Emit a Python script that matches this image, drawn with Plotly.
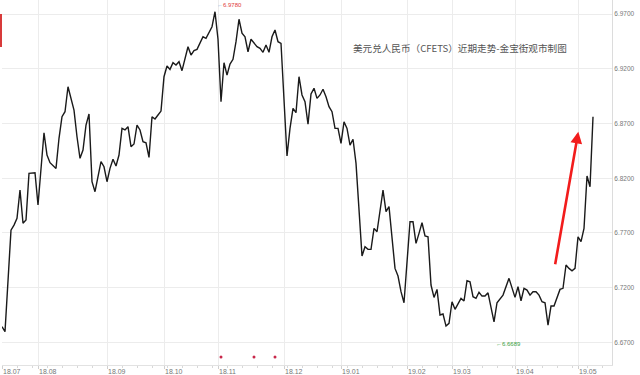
import plotly.graph_objects as go

# trading-day index (0 = left edge of chart, mid-July 2018) and USD/CNY close
day = [0, 1, 3, 4, 5, 6, 7, 8, 9, 10, 11, 12, 14, 15, 16, 18, 19, 20, 21, 22,
       24, 25, 26, 27, 28, 29, 30, 31, 33, 34, 35, 36, 37, 38, 39, 40, 41, 42, 43, 44,
       45, 46, 47, 48, 49, 50, 51, 52, 53, 54, 55, 56, 57, 58, 59, 60, 61, 62, 63, 64,
       65, 67, 68, 69, 70, 71, 72, 73, 74, 75, 76, 77, 78, 79, 80, 81, 82, 83, 85, 86,
       87, 88, 89, 90, 91, 92, 93, 95, 96, 97, 98, 99, 100, 101, 102, 103, 104, 105, 106, 107,
       108, 109, 110, 111, 112, 113, 114, 115, 116, 117, 118, 120, 121, 122, 123, 124, 125, 127, 128, 129,
       130, 131, 132, 133, 134, 136, 137, 138, 139, 140, 141, 142, 143, 144, 145, 146, 147, 148, 149, 150,
       151, 153, 154, 155, 156, 157, 158, 159, 160, 161, 162, 163, 164, 165, 166, 167, 169, 170, 171, 172,
       173, 174, 175, 176, 177, 178, 179, 180, 181, 182, 183, 184, 185, 186, 187, 188, 189, 190, 191, 192,
       193, 194, 195, 196, 197]
rate = [6.6843, 6.6797, 6.7726, 6.7772, 6.7833, 6.8092, 6.7788, 6.7818, 6.8245, 6.8250,
        6.8250, 6.7955, 6.8616, 6.8412, 6.8342, 6.8290, 6.8565, 6.8762, 6.8808, 6.9036,
        6.8823, 6.8579, 6.8382, 6.8458, 6.8686, 6.8787, 6.8168, 6.8077, 6.8351, 6.8305,
        6.8168, 6.8290, 6.8373, 6.8312, 6.8412, 6.8656, 6.8641, 6.8671, 6.8488, 6.8513,
        6.8686, 6.8641, 6.8534, 6.8524, 6.8391, 6.8762, 6.8741, 6.8778, 6.8814, 6.9128,
        6.9226, 6.9195, 6.9256, 6.9235, 6.9265, 6.9183, 6.9280, 6.9402, 6.9326, 6.9366,
        6.9378, 6.9493, 6.9479, 6.9539, 6.9585, 6.9722, 6.9470, 6.8899, 6.9256, 6.9143,
        6.9244, 6.9287, 6.9448, 6.9653, 6.9525, 6.9493, 6.9356, 6.9470, 6.9402, 6.9387,
        6.9351, 6.9418, 6.9351, 6.9493, 6.9555, 6.9448, 6.9433, 6.8403, 6.8656, 6.8839,
        6.8799, 6.9128, 6.8961, 6.8899, 6.8695, 6.8970, 6.9022, 6.8930, 6.8961, 6.9013,
        6.8945, 6.8854, 6.8808, 6.8656, 6.8656, 6.8519, 6.8716, 6.8656, 6.8503, 6.8556,
        6.8336, 6.7489, 6.7574, 6.7550, 6.7550, 6.7742, 6.7711, 6.8092, 6.7894, 6.7940,
        6.7665, 6.7376, 6.7306, 6.7163, 6.7062, 6.7802, 6.7802, 6.7605, 6.7696, 6.7793,
        6.7672, 6.7665, 6.7224, 6.7111, 6.7184, 6.6950, 6.6959, 6.6849, 6.6874, 6.7071,
        6.7002, 6.7102, 6.7078, 6.7263, 6.7254, 6.7117, 6.7102, 6.7158, 6.7123, 6.7123,
        6.7153, 6.7011, 6.6888, 6.7062, 6.7102, 6.7132, 6.7285, 6.7208, 6.7111, 6.7208,
        6.7080, 6.7194, 6.7178, 6.7132, 6.7163, 6.7163, 6.7132, 6.7071, 6.7062, 6.6858,
        6.7032, 6.7032, 6.7102, 6.7184, 6.7194, 6.7407, 6.7376, 6.7354, 6.7376, 6.7665,
        6.7620, 6.7742, 6.8220, 6.8122, 6.8762]

month_pos = [0, 12, 35, 54, 72, 94, 113, 135, 150, 171, 192]
month_lab = ["18.07", "18.08", "18.09", "18.10", "18.11", "18.12",
             "19.01", "19.02", "19.03", "19.04", "19.05"]
y_ticks = [6.67, 6.72, 6.77, 6.82, 6.87, 6.92, 6.97]

high_day, high_val = 71, 6.9780
low_day, low_val = 164, 6.6689
event_days = [73, 84, 91]
event_level = [6.6566, 6.6566, 6.6566]
arrow_tail = (184.3, 6.7400)
arrow_head = (192.1, 6.8625)

title_txt = "美元兑人民币（CFETS）近期走势-金宝街观市制图"

fig = go.Figure()
fig.add_trace(go.Scatter(x=day, y=rate, mode="lines",
                         line=dict(color="#1a1a1a", width=1.4),
                         hoverinfo="skip", showlegend=False))
fig.add_trace(go.Scatter(x=event_days, y=event_level, mode="markers",
                         marker=dict(color="#c8284a", size=3),
                         hoverinfo="skip", showlegend=False, cliponaxis=False))

fig.add_annotation(x=high_day, y=high_val, xref="x", yref="y",
                   text="<span style='color:#8fb0d8'>←</span>%.4f" % high_val,
                   showarrow=False, xanchor="left", yanchor="middle",
                   font=dict(size=6, color="#e03a3a", family="Liberation Sans"))
fig.add_annotation(x=low_day, y=low_val, xref="x", yref="y",
                   text="←%.4f" % low_val,
                   showarrow=False, xanchor="left", yanchor="middle",
                   font=dict(size=6, color="#3aa040", family="Liberation Sans"))
fig.add_annotation(x=arrow_head[0], y=arrow_head[1], ax=arrow_tail[0], ay=arrow_tail[1],
                   xref="x", yref="y", axref="x", ayref="y", text="",
                   showarrow=True, arrowhead=2, arrowsize=0.9, arrowwidth=2.6,
                   arrowcolor="#f21c1c", standoff=0)
fig.add_annotation(x=0.75, y=1 - 48 / 365, xref="paper", yref="paper", text=title_txt,
                   showarrow=False, xanchor="center", yanchor="middle",
                   font=dict(size=9.6, color="#555555", family="Noto Sans CJK SC"))
# left-edge red marker
fig.add_shape(type="rect", xref="paper", yref="y", xsizemode="pixel", xanchor=0,
              x0=-2, x1=0, y0=6.9399, y1=6.9700, fillcolor="#d83a3a",
              line=dict(width=0), layer="above")

fig.update_layout(
    width=640, height=375,
    margin=dict(l=2, r=28, t=0, b=10),
    paper_bgcolor="white", plot_bgcolor="white",
    xaxis=dict(range=[0, 203.33], tickmode="array", tickvals=month_pos, ticktext=month_lab,
               ticklabelposition="outside right", showgrid=True, gridcolor="#ececec",
               gridwidth=1, zeroline=False, showline=True, linecolor="#e2e2e2",
               ticks="outside", ticklen=3, tickcolor="#d0d0d0",
               minor=dict(dtick=5, tick0=0, ticks="outside", ticklen=2, tickcolor="#d8d8d8",
                          showgrid=False),
               tickfont=dict(size=7, color="#777777", family="Liberation Sans")),
    yaxis=dict(range=[6.6493, 6.9829], side="right", tickmode="array", tickvals=y_ticks,
               ticktext=["%.4f" % v for v in y_ticks], showgrid=True, gridcolor="#ececec",
               zeroline=False, showline=True, linecolor="#dcdcdc", ticks="", ticklen=0,
               tickfont=dict(size=6.5, color="#777777", family="Liberation Sans")),
)

fig.write_html("out.html")
